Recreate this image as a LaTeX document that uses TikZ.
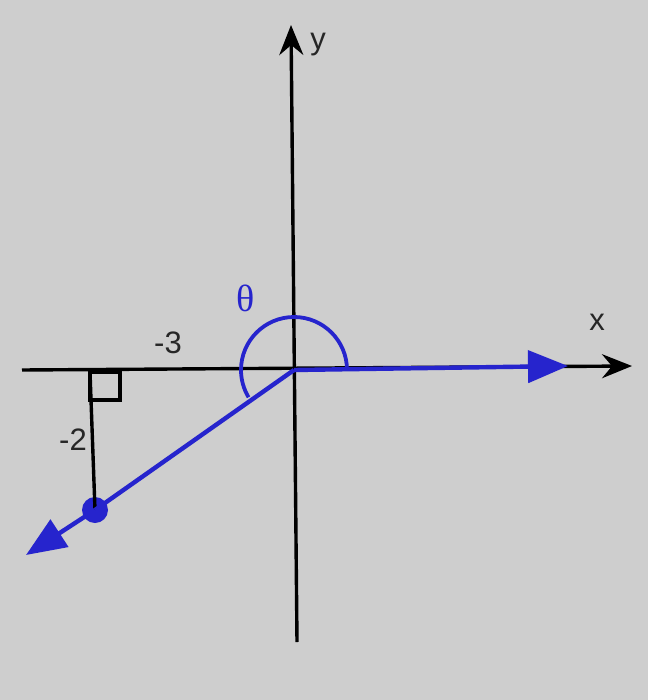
\documentclass[tikz,border=0pt]{standalone}
\usepackage{fontspec}
\setmainfont{Liberation Sans}
\newfontfamily\thetafont{Liberation Serif}
\usetikzlibrary{arrows.meta}
\definecolor{vblue}{RGB}{38,36,205}
\definecolor{bg}{RGB}{206,206,206}
\begin{document}
\begin{tikzpicture}[x=1pt,y=-1pt,
  axis/.style={line width=3.4pt,black,-{Stealth[length=30pt,width=24pt,inset=10pt]}},
  vecline/.style={line width=4.4pt,vblue,-{Triangle[length=40pt,width=32pt]}},
  lbl/.style={font=\fontsize{31}{33}\selectfont,text=black!85,inner sep=0pt}]
\fill[bg] (0,0) rectangle (648,700);
\useasboundingbox (0,0) rectangle (648,700);
\coordinate (O) at (294,370);
\coordinate (xl) at (22,370);
\coordinate (xr) at (632,366);
\coordinate (yb) at (297,642);
\coordinate (yt) at (291,25);
\coordinate (vx) at (568,366);
\coordinate (foot) at (90,372);
\coordinate (tip) at (26,555);
\node[circle,fill=vblue,minimum size=26pt,inner sep=0pt] (P) at (95,510) {};
% axes
\draw[axis] (xl) -- (xr);
\draw[axis] (yb) -- (yt);
% right angle and vertical leg
\draw[line width=3.4pt] (foot) -- (P.center);
\draw[line width=3.2pt] (90,372) rectangle (120,400);
% vectors
\draw[vecline] (O) -- (vx);
\draw[line width=4.4pt,vblue] (O) -- (P.center);
\draw[vecline] (P.center) -- (tip);
% angle arc
\draw[vblue,line width=3.8pt] ([shift={(0:53)}]O) arc[start angle=0,end angle=-211,radius=53];
% labels
\node[lbl] (m3) at (168,343) {-3};
\node[lbl] (m2) at (73,440) {-2};
\node[lbl] (xlab) at (597,322) {x};
\node[lbl] (ylab) at (318,45) {y};
\node[inner sep=0pt,text=vblue,font=\fontsize{38}{40}\thetafont] (th) at (246,298) {θ};
\end{tikzpicture}
\end{document}
